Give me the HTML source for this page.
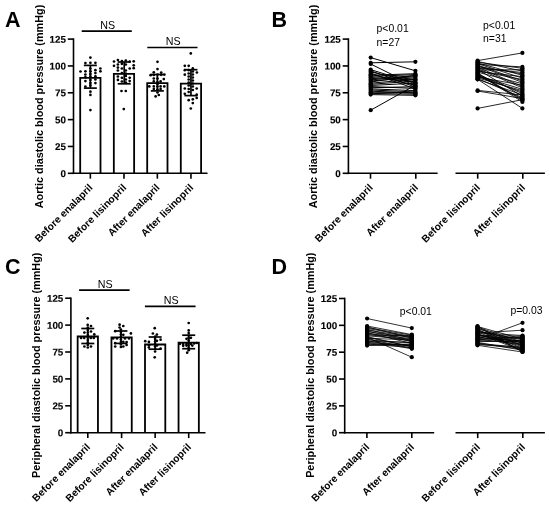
<!DOCTYPE html>
<html><head><meta charset="utf-8"><style>html,body{margin:0;padding:0;background:#fff;overflow:hidden;}svg{display:block;}</style></head>
<body>
<svg width="550" height="506" viewBox="0 0 550 506" font-family="Liberation Sans, Arial, sans-serif">
<rect width="550" height="506" fill="#fff"/>
<text x="5.00" y="26.80" font-size="21.5" font-weight="bold" text-anchor="start">A</text>
<text x="271.60" y="26.80" font-size="21.5" font-weight="bold" text-anchor="start">B</text>
<text x="5.00" y="273.70" font-size="21.5" font-weight="bold" text-anchor="start">C</text>
<text x="271.60" y="273.70" font-size="21.5" font-weight="bold" text-anchor="start">D</text>
<line x1="73.50" y1="38.30" x2="73.50" y2="174.10" stroke="#000" stroke-width="1.6"/>
<line x1="67.80" y1="173.30" x2="73.50" y2="173.30" stroke="#000" stroke-width="1.6"/>
<text transform="translate(65.90 176.90) rotate(0.2)" font-size="9.8" font-weight="bold" text-anchor="end" stroke="#000" stroke-width="0.12">0</text>
<line x1="67.80" y1="146.46" x2="73.50" y2="146.46" stroke="#000" stroke-width="1.6"/>
<text transform="translate(65.90 150.06) rotate(0.2)" font-size="9.8" font-weight="bold" text-anchor="end" stroke="#000" stroke-width="0.12">25</text>
<line x1="67.80" y1="119.62" x2="73.50" y2="119.62" stroke="#000" stroke-width="1.6"/>
<text transform="translate(65.90 123.22) rotate(0.2)" font-size="9.8" font-weight="bold" text-anchor="end" stroke="#000" stroke-width="0.12">50</text>
<line x1="67.80" y1="92.78" x2="73.50" y2="92.78" stroke="#000" stroke-width="1.6"/>
<text transform="translate(65.90 96.38) rotate(0.2)" font-size="9.8" font-weight="bold" text-anchor="end" stroke="#000" stroke-width="0.12">75</text>
<line x1="67.80" y1="65.94" x2="73.50" y2="65.94" stroke="#000" stroke-width="1.6"/>
<text transform="translate(65.90 69.54) rotate(0.2)" font-size="9.8" font-weight="bold" text-anchor="end" stroke="#000" stroke-width="0.12">100</text>
<line x1="67.80" y1="39.10" x2="73.50" y2="39.10" stroke="#000" stroke-width="1.6"/>
<text transform="translate(65.90 42.70) rotate(0.2)" font-size="9.8" font-weight="bold" text-anchor="end" stroke="#000" stroke-width="0.12">125</text>
<text transform="translate(42.60 106.50) rotate(-90)" font-size="10.85" font-weight="bold" text-anchor="middle">Aortic diastolic blood pressure (mmHg)</text>
<line x1="72.70" y1="173.30" x2="207.50" y2="173.30" stroke="#000" stroke-width="1.6"/>
<line x1="90.35" y1="173.30" x2="90.35" y2="178.70" stroke="#000" stroke-width="1.6"/>
<text transform="translate(93.35 188.30) rotate(-45)" font-size="10.2" font-weight="bold" text-anchor="end">Before enalapril</text>
<line x1="123.98" y1="173.30" x2="123.98" y2="178.70" stroke="#000" stroke-width="1.6"/>
<text transform="translate(126.98 188.30) rotate(-45)" font-size="10.2" font-weight="bold" text-anchor="end">Before lisinopril</text>
<line x1="157.35" y1="173.30" x2="157.35" y2="178.70" stroke="#000" stroke-width="1.6"/>
<text transform="translate(160.35 188.30) rotate(-45)" font-size="10.2" font-weight="bold" text-anchor="end">After enalapril</text>
<line x1="190.95" y1="173.30" x2="190.95" y2="178.70" stroke="#000" stroke-width="1.6"/>
<text transform="translate(193.95 188.30) rotate(-45)" font-size="10.2" font-weight="bold" text-anchor="end">After lisinopril</text>
<line x1="348.40" y1="38.30" x2="348.40" y2="174.10" stroke="#000" stroke-width="1.6"/>
<line x1="342.70" y1="173.30" x2="348.40" y2="173.30" stroke="#000" stroke-width="1.6"/>
<text transform="translate(340.80 176.90) rotate(0.2)" font-size="9.8" font-weight="bold" text-anchor="end" stroke="#000" stroke-width="0.12">0</text>
<line x1="342.70" y1="146.46" x2="348.40" y2="146.46" stroke="#000" stroke-width="1.6"/>
<text transform="translate(340.80 150.06) rotate(0.2)" font-size="9.8" font-weight="bold" text-anchor="end" stroke="#000" stroke-width="0.12">25</text>
<line x1="342.70" y1="119.62" x2="348.40" y2="119.62" stroke="#000" stroke-width="1.6"/>
<text transform="translate(340.80 123.22) rotate(0.2)" font-size="9.8" font-weight="bold" text-anchor="end" stroke="#000" stroke-width="0.12">50</text>
<line x1="342.70" y1="92.78" x2="348.40" y2="92.78" stroke="#000" stroke-width="1.6"/>
<text transform="translate(340.80 96.38) rotate(0.2)" font-size="9.8" font-weight="bold" text-anchor="end" stroke="#000" stroke-width="0.12">75</text>
<line x1="342.70" y1="65.94" x2="348.40" y2="65.94" stroke="#000" stroke-width="1.6"/>
<text transform="translate(340.80 69.54) rotate(0.2)" font-size="9.8" font-weight="bold" text-anchor="end" stroke="#000" stroke-width="0.12">100</text>
<line x1="342.70" y1="39.10" x2="348.40" y2="39.10" stroke="#000" stroke-width="1.6"/>
<text transform="translate(340.80 42.70) rotate(0.2)" font-size="9.8" font-weight="bold" text-anchor="end" stroke="#000" stroke-width="0.12">125</text>
<text transform="translate(317.30 106.50) rotate(-90)" font-size="10.85" font-weight="bold" text-anchor="middle">Aortic diastolic blood pressure (mmHg)</text>
<line x1="347.60" y1="173.30" x2="437.60" y2="173.30" stroke="#000" stroke-width="1.6"/>
<line x1="455.50" y1="173.30" x2="544.90" y2="173.30" stroke="#000" stroke-width="1.6"/>
<line x1="370.50" y1="173.30" x2="370.50" y2="178.70" stroke="#000" stroke-width="1.6"/>
<text transform="translate(373.50 188.30) rotate(-45)" font-size="10.2" font-weight="bold" text-anchor="end">Before enalapril</text>
<line x1="415.80" y1="173.30" x2="415.80" y2="178.70" stroke="#000" stroke-width="1.6"/>
<text transform="translate(418.80 188.30) rotate(-45)" font-size="10.2" font-weight="bold" text-anchor="end">After enalapril</text>
<line x1="477.70" y1="173.30" x2="477.70" y2="178.70" stroke="#000" stroke-width="1.6"/>
<text transform="translate(480.70 188.30) rotate(-45)" font-size="10.2" font-weight="bold" text-anchor="end">Before lisinopril</text>
<line x1="522.80" y1="173.30" x2="522.80" y2="178.70" stroke="#000" stroke-width="1.6"/>
<text transform="translate(525.80 188.30) rotate(-45)" font-size="10.2" font-weight="bold" text-anchor="end">After lisinopril</text>
<line x1="70.90" y1="297.40" x2="70.90" y2="433.50" stroke="#000" stroke-width="1.6"/>
<line x1="65.20" y1="432.70" x2="70.90" y2="432.70" stroke="#000" stroke-width="1.6"/>
<text transform="translate(63.30 436.30) rotate(0.2)" font-size="9.8" font-weight="bold" text-anchor="end" stroke="#000" stroke-width="0.12">0</text>
<line x1="65.20" y1="405.80" x2="70.90" y2="405.80" stroke="#000" stroke-width="1.6"/>
<text transform="translate(63.30 409.40) rotate(0.2)" font-size="9.8" font-weight="bold" text-anchor="end" stroke="#000" stroke-width="0.12">25</text>
<line x1="65.20" y1="378.90" x2="70.90" y2="378.90" stroke="#000" stroke-width="1.6"/>
<text transform="translate(63.30 382.50) rotate(0.2)" font-size="9.8" font-weight="bold" text-anchor="end" stroke="#000" stroke-width="0.12">50</text>
<line x1="65.20" y1="352.00" x2="70.90" y2="352.00" stroke="#000" stroke-width="1.6"/>
<text transform="translate(63.30 355.60) rotate(0.2)" font-size="9.8" font-weight="bold" text-anchor="end" stroke="#000" stroke-width="0.12">75</text>
<line x1="65.20" y1="325.10" x2="70.90" y2="325.10" stroke="#000" stroke-width="1.6"/>
<text transform="translate(63.30 328.70) rotate(0.2)" font-size="9.8" font-weight="bold" text-anchor="end" stroke="#000" stroke-width="0.12">100</text>
<line x1="65.20" y1="298.20" x2="70.90" y2="298.20" stroke="#000" stroke-width="1.6"/>
<text transform="translate(63.30 301.80) rotate(0.2)" font-size="9.8" font-weight="bold" text-anchor="end" stroke="#000" stroke-width="0.12">125</text>
<text transform="translate(39.80 365.30) rotate(-90)" font-size="10.85" font-weight="bold" text-anchor="middle">Peripheral diastolic blood pressure (mmHg)</text>
<line x1="70.10" y1="432.70" x2="205.50" y2="432.70" stroke="#000" stroke-width="1.6"/>
<line x1="87.80" y1="432.70" x2="87.80" y2="438.10" stroke="#000" stroke-width="1.6"/>
<text transform="translate(90.80 447.70) rotate(-45)" font-size="10.2" font-weight="bold" text-anchor="end">Before enalapril</text>
<line x1="121.60" y1="432.70" x2="121.60" y2="438.10" stroke="#000" stroke-width="1.6"/>
<text transform="translate(124.60 447.70) rotate(-45)" font-size="10.2" font-weight="bold" text-anchor="end">Before lisinopril</text>
<line x1="155.15" y1="432.70" x2="155.15" y2="438.10" stroke="#000" stroke-width="1.6"/>
<text transform="translate(158.15 447.70) rotate(-45)" font-size="10.2" font-weight="bold" text-anchor="end">After enalapril</text>
<line x1="188.70" y1="432.70" x2="188.70" y2="438.10" stroke="#000" stroke-width="1.6"/>
<text transform="translate(191.70 447.70) rotate(-45)" font-size="10.2" font-weight="bold" text-anchor="end">After lisinopril</text>
<line x1="344.70" y1="297.70" x2="344.70" y2="433.50" stroke="#000" stroke-width="1.6"/>
<line x1="339.00" y1="432.70" x2="344.70" y2="432.70" stroke="#000" stroke-width="1.6"/>
<text transform="translate(337.10 436.30) rotate(0.2)" font-size="9.8" font-weight="bold" text-anchor="end" stroke="#000" stroke-width="0.12">0</text>
<line x1="339.00" y1="405.86" x2="344.70" y2="405.86" stroke="#000" stroke-width="1.6"/>
<text transform="translate(337.10 409.46) rotate(0.2)" font-size="9.8" font-weight="bold" text-anchor="end" stroke="#000" stroke-width="0.12">25</text>
<line x1="339.00" y1="379.02" x2="344.70" y2="379.02" stroke="#000" stroke-width="1.6"/>
<text transform="translate(337.10 382.62) rotate(0.2)" font-size="9.8" font-weight="bold" text-anchor="end" stroke="#000" stroke-width="0.12">50</text>
<line x1="339.00" y1="352.18" x2="344.70" y2="352.18" stroke="#000" stroke-width="1.6"/>
<text transform="translate(337.10 355.78) rotate(0.2)" font-size="9.8" font-weight="bold" text-anchor="end" stroke="#000" stroke-width="0.12">75</text>
<line x1="339.00" y1="325.34" x2="344.70" y2="325.34" stroke="#000" stroke-width="1.6"/>
<text transform="translate(337.10 328.94) rotate(0.2)" font-size="9.8" font-weight="bold" text-anchor="end" stroke="#000" stroke-width="0.12">100</text>
<line x1="339.00" y1="298.50" x2="344.70" y2="298.50" stroke="#000" stroke-width="1.6"/>
<text transform="translate(337.10 302.10) rotate(0.2)" font-size="9.8" font-weight="bold" text-anchor="end" stroke="#000" stroke-width="0.12">125</text>
<text transform="translate(313.60 365.20) rotate(-90)" font-size="10.85" font-weight="bold" text-anchor="middle">Peripheral diastolic blood pressure (mmHg)</text>
<line x1="343.90" y1="432.70" x2="434.20" y2="432.70" stroke="#000" stroke-width="1.6"/>
<line x1="455.50" y1="432.70" x2="544.90" y2="432.70" stroke="#000" stroke-width="1.6"/>
<line x1="366.90" y1="432.70" x2="366.90" y2="438.10" stroke="#000" stroke-width="1.6"/>
<text transform="translate(369.90 447.70) rotate(-45)" font-size="10.2" font-weight="bold" text-anchor="end">Before enalapril</text>
<line x1="411.80" y1="432.70" x2="411.80" y2="438.10" stroke="#000" stroke-width="1.6"/>
<text transform="translate(414.80 447.70) rotate(-45)" font-size="10.2" font-weight="bold" text-anchor="end">After enalapril</text>
<line x1="477.70" y1="432.70" x2="477.70" y2="438.10" stroke="#000" stroke-width="1.6"/>
<text transform="translate(480.70 447.70) rotate(-45)" font-size="10.2" font-weight="bold" text-anchor="end">Before lisinopril</text>
<line x1="522.80" y1="432.70" x2="522.80" y2="438.10" stroke="#000" stroke-width="1.6"/>
<text transform="translate(525.80 447.70) rotate(-45)" font-size="10.2" font-weight="bold" text-anchor="end">After lisinopril</text>
<path d="M80.20 173.30 V77.80 H100.50 V173.30" fill="none" stroke="#000" stroke-width="1.8"/>
<line x1="90.35" y1="65.40" x2="90.35" y2="88.10" stroke="#000" stroke-width="1.7"/>
<line x1="83.85" y1="65.40" x2="96.85" y2="65.40" stroke="#000" stroke-width="1.7"/>
<line x1="83.85" y1="88.10" x2="96.85" y2="88.10" stroke="#000" stroke-width="1.7"/>
<path d="M113.83 173.30 V73.90 H134.13 V173.30" fill="none" stroke="#000" stroke-width="1.8"/>
<line x1="124.20" y1="62.00" x2="124.20" y2="83.80" stroke="#000" stroke-width="1.7"/>
<line x1="117.70" y1="62.00" x2="130.70" y2="62.00" stroke="#000" stroke-width="1.7"/>
<line x1="117.70" y1="83.80" x2="130.70" y2="83.80" stroke="#000" stroke-width="1.7"/>
<path d="M147.20 173.30 V83.20 H167.50 V173.30" fill="none" stroke="#000" stroke-width="1.8"/>
<line x1="157.35" y1="74.50" x2="157.35" y2="90.90" stroke="#000" stroke-width="1.7"/>
<line x1="150.85" y1="74.50" x2="163.85" y2="74.50" stroke="#000" stroke-width="1.7"/>
<line x1="150.85" y1="90.90" x2="163.85" y2="90.90" stroke="#000" stroke-width="1.7"/>
<path d="M180.80 173.30 V83.60 H201.10 V173.30" fill="none" stroke="#000" stroke-width="1.8"/>
<line x1="190.95" y1="69.70" x2="190.95" y2="95.60" stroke="#000" stroke-width="1.7"/>
<line x1="184.45" y1="69.70" x2="197.45" y2="69.70" stroke="#000" stroke-width="1.7"/>
<line x1="184.45" y1="95.60" x2="197.45" y2="95.60" stroke="#000" stroke-width="1.7"/>
<path d="M77.65 432.70 V336.50 H97.95 V432.70" fill="none" stroke="#000" stroke-width="1.8"/>
<line x1="87.80" y1="328.50" x2="87.80" y2="343.50" stroke="#000" stroke-width="1.7"/>
<line x1="81.30" y1="328.50" x2="94.30" y2="328.50" stroke="#000" stroke-width="1.7"/>
<line x1="81.30" y1="343.50" x2="94.30" y2="343.50" stroke="#000" stroke-width="1.7"/>
<path d="M111.45 432.70 V337.30 H131.75 V432.70" fill="none" stroke="#000" stroke-width="1.8"/>
<line x1="120.90" y1="331.00" x2="120.90" y2="343.40" stroke="#000" stroke-width="1.7"/>
<line x1="114.40" y1="331.00" x2="127.40" y2="331.00" stroke="#000" stroke-width="1.7"/>
<line x1="114.40" y1="343.40" x2="127.40" y2="343.40" stroke="#000" stroke-width="1.7"/>
<path d="M145.00 432.70 V344.50 H165.30 V432.70" fill="none" stroke="#000" stroke-width="1.8"/>
<line x1="155.15" y1="337.00" x2="155.15" y2="349.20" stroke="#000" stroke-width="1.7"/>
<line x1="148.65" y1="337.00" x2="161.65" y2="337.00" stroke="#000" stroke-width="1.7"/>
<line x1="148.65" y1="349.20" x2="161.65" y2="349.20" stroke="#000" stroke-width="1.7"/>
<path d="M178.55 432.70 V342.60 H198.85 V432.70" fill="none" stroke="#000" stroke-width="1.8"/>
<line x1="188.70" y1="335.20" x2="188.70" y2="348.70" stroke="#000" stroke-width="1.7"/>
<line x1="182.20" y1="335.20" x2="195.20" y2="335.20" stroke="#000" stroke-width="1.7"/>
<line x1="182.20" y1="348.70" x2="195.20" y2="348.70" stroke="#000" stroke-width="1.7"/>
<line x1="81.70" y1="31.10" x2="131.80" y2="31.10" stroke="#000" stroke-width="1.6"/>
<text x="107.65" y="28.80" font-size="10.7" text-anchor="middle">NS</text>
<line x1="147.30" y1="47.50" x2="197.50" y2="47.50" stroke="#000" stroke-width="1.6"/>
<text x="173.30" y="44.50" font-size="10.7" text-anchor="middle">NS</text>
<line x1="79.10" y1="290.10" x2="129.60" y2="290.10" stroke="#000" stroke-width="1.6"/>
<text x="105.25" y="287.80" font-size="10.7" text-anchor="middle">NS</text>
<line x1="144.90" y1="306.40" x2="195.60" y2="306.40" stroke="#000" stroke-width="1.6"/>
<text x="171.15" y="303.60" font-size="10.7" text-anchor="middle">NS</text>
<text x="376.60" y="32.10" font-size="10.4" text-anchor="start">p&lt;0.01</text>
<text x="376.60" y="45.60" font-size="10.4" text-anchor="start">n=27</text>
<text x="483.10" y="28.50" font-size="10.4" text-anchor="start">p&lt;0.01</text>
<text x="483.10" y="42.10" font-size="10.4" text-anchor="start">n=31</text>
<text x="399.80" y="314.80" font-size="10.4" text-anchor="start">p&lt;0.01</text>
<text x="510.40" y="313.70" font-size="10.4" text-anchor="start">p=0.03</text>
<circle cx="90.40" cy="57.60" r="1.35"/>
<circle cx="85.40" cy="63.10" r="1.35"/>
<circle cx="90.40" cy="62.80" r="1.35"/>
<circle cx="95.40" cy="62.80" r="1.35"/>
<circle cx="100.40" cy="68.50" r="1.35"/>
<circle cx="90.40" cy="68.50" r="1.35"/>
<circle cx="80.50" cy="71.50" r="1.35"/>
<circle cx="85.40" cy="71.30" r="1.35"/>
<circle cx="90.40" cy="71.30" r="1.35"/>
<circle cx="95.40" cy="70.20" r="1.35"/>
<circle cx="100.40" cy="71.30" r="1.35"/>
<circle cx="85.40" cy="74.50" r="1.35"/>
<circle cx="90.40" cy="74.00" r="1.35"/>
<circle cx="95.40" cy="73.10" r="1.35"/>
<circle cx="90.40" cy="76.70" r="1.35"/>
<circle cx="95.40" cy="76.30" r="1.35"/>
<circle cx="85.40" cy="77.20" r="1.35"/>
<circle cx="90.40" cy="80.00" r="1.35"/>
<circle cx="85.40" cy="81.10" r="1.35"/>
<circle cx="95.40" cy="79.50" r="1.35"/>
<circle cx="90.40" cy="83.10" r="1.35"/>
<circle cx="95.40" cy="83.10" r="1.35"/>
<circle cx="90.40" cy="85.40" r="1.35"/>
<circle cx="85.40" cy="86.50" r="1.35"/>
<circle cx="90.40" cy="91.70" r="1.35"/>
<circle cx="90.40" cy="94.90" r="1.35"/>
<circle cx="90.40" cy="110.10" r="1.35"/>
<circle cx="114.00" cy="61.50" r="1.35"/>
<circle cx="117.90" cy="60.00" r="1.35"/>
<circle cx="121.90" cy="61.00" r="1.35"/>
<circle cx="125.80" cy="60.50" r="1.35"/>
<circle cx="129.70" cy="61.50" r="1.35"/>
<circle cx="133.70" cy="61.30" r="1.35"/>
<circle cx="114.00" cy="65.80" r="1.35"/>
<circle cx="117.90" cy="64.50" r="1.35"/>
<circle cx="125.80" cy="64.50" r="1.35"/>
<circle cx="133.70" cy="65.30" r="1.35"/>
<circle cx="121.90" cy="63.80" r="1.35"/>
<circle cx="117.90" cy="67.60" r="1.35"/>
<circle cx="121.90" cy="68.50" r="1.35"/>
<circle cx="129.70" cy="68.50" r="1.35"/>
<circle cx="133.70" cy="68.20" r="1.35"/>
<circle cx="117.90" cy="70.50" r="1.35"/>
<circle cx="125.80" cy="70.50" r="1.35"/>
<circle cx="121.90" cy="73.00" r="1.35"/>
<circle cx="125.80" cy="73.50" r="1.35"/>
<circle cx="117.90" cy="76.50" r="1.35"/>
<circle cx="125.80" cy="76.00" r="1.35"/>
<circle cx="129.70" cy="77.80" r="1.35"/>
<circle cx="121.90" cy="77.80" r="1.35"/>
<circle cx="117.90" cy="79.90" r="1.35"/>
<circle cx="125.80" cy="79.50" r="1.35"/>
<circle cx="129.70" cy="81.10" r="1.35"/>
<circle cx="121.90" cy="81.50" r="1.35"/>
<circle cx="125.80" cy="82.50" r="1.35"/>
<circle cx="121.50" cy="91.00" r="1.35"/>
<circle cx="125.80" cy="91.00" r="1.35"/>
<circle cx="123.80" cy="109.10" r="1.35"/>
<circle cx="157.50" cy="61.80" r="1.35"/>
<circle cx="157.50" cy="69.10" r="1.35"/>
<circle cx="153.80" cy="72.30" r="1.35"/>
<circle cx="161.20" cy="72.60" r="1.35"/>
<circle cx="150.60" cy="75.20" r="1.35"/>
<circle cx="153.80" cy="75.00" r="1.35"/>
<circle cx="157.50" cy="74.50" r="1.35"/>
<circle cx="161.20" cy="74.80" r="1.35"/>
<circle cx="164.40" cy="74.60" r="1.35"/>
<circle cx="163.80" cy="79.10" r="1.35"/>
<circle cx="157.50" cy="78.50" r="1.35"/>
<circle cx="153.80" cy="78.50" r="1.35"/>
<circle cx="153.80" cy="81.40" r="1.35"/>
<circle cx="160.60" cy="81.40" r="1.35"/>
<circle cx="157.50" cy="82.00" r="1.35"/>
<circle cx="157.50" cy="84.00" r="1.35"/>
<circle cx="149.30" cy="86.40" r="1.35"/>
<circle cx="153.80" cy="86.40" r="1.35"/>
<circle cx="157.50" cy="86.50" r="1.35"/>
<circle cx="160.60" cy="86.40" r="1.35"/>
<circle cx="164.30" cy="86.40" r="1.35"/>
<circle cx="153.80" cy="89.00" r="1.35"/>
<circle cx="160.60" cy="89.00" r="1.35"/>
<circle cx="157.50" cy="89.50" r="1.35"/>
<circle cx="157.50" cy="92.50" r="1.35"/>
<circle cx="155.60" cy="96.40" r="1.35"/>
<circle cx="158.80" cy="95.00" r="1.35"/>
<circle cx="190.80" cy="53.40" r="1.35"/>
<circle cx="184.80" cy="65.80" r="1.35"/>
<circle cx="188.70" cy="65.80" r="1.35"/>
<circle cx="184.80" cy="70.20" r="1.35"/>
<circle cx="188.70" cy="70.20" r="1.35"/>
<circle cx="192.80" cy="68.40" r="1.35"/>
<circle cx="196.90" cy="72.50" r="1.35"/>
<circle cx="192.80" cy="71.50" r="1.35"/>
<circle cx="184.80" cy="74.70" r="1.35"/>
<circle cx="188.70" cy="73.50" r="1.35"/>
<circle cx="192.80" cy="74.50" r="1.35"/>
<circle cx="188.70" cy="76.50" r="1.35"/>
<circle cx="192.80" cy="77.50" r="1.35"/>
<circle cx="188.70" cy="79.50" r="1.35"/>
<circle cx="192.80" cy="80.50" r="1.35"/>
<circle cx="188.70" cy="82.50" r="1.35"/>
<circle cx="192.80" cy="83.50" r="1.35"/>
<circle cx="188.70" cy="85.50" r="1.35"/>
<circle cx="192.80" cy="86.50" r="1.35"/>
<circle cx="188.70" cy="89.00" r="1.35"/>
<circle cx="192.80" cy="90.00" r="1.35"/>
<circle cx="188.70" cy="92.00" r="1.35"/>
<circle cx="184.80" cy="88.50" r="1.35"/>
<circle cx="196.70" cy="88.50" r="1.35"/>
<circle cx="184.80" cy="93.80" r="1.35"/>
<circle cx="196.70" cy="94.70" r="1.35"/>
<circle cx="196.70" cy="97.90" r="1.35"/>
<circle cx="188.70" cy="100.20" r="1.35"/>
<circle cx="192.80" cy="99.30" r="1.35"/>
<circle cx="192.80" cy="103.10" r="1.35"/>
<circle cx="190.80" cy="108.50" r="1.35"/>
<circle cx="87.70" cy="318.30" r="1.35"/>
<circle cx="87.70" cy="324.90" r="1.35"/>
<circle cx="91.00" cy="326.00" r="1.35"/>
<circle cx="84.40" cy="332.60" r="1.35"/>
<circle cx="91.00" cy="331.50" r="1.35"/>
<circle cx="94.30" cy="334.40" r="1.35"/>
<circle cx="81.10" cy="337.90" r="1.35"/>
<circle cx="84.20" cy="337.90" r="1.35"/>
<circle cx="90.80" cy="337.90" r="1.35"/>
<circle cx="93.80" cy="337.90" r="1.35"/>
<circle cx="84.40" cy="346.50" r="1.35"/>
<circle cx="91.00" cy="346.50" r="1.35"/>
<circle cx="87.80" cy="327.50" r="1.35"/>
<circle cx="87.80" cy="330.00" r="1.35"/>
<circle cx="87.80" cy="332.50" r="1.35"/>
<circle cx="87.80" cy="335.00" r="1.35"/>
<circle cx="87.80" cy="337.50" r="1.35"/>
<circle cx="87.80" cy="340.00" r="1.35"/>
<circle cx="87.80" cy="342.50" r="1.35"/>
<circle cx="87.80" cy="345.00" r="1.35"/>
<circle cx="87.80" cy="347.50" r="1.35"/>
<circle cx="119.60" cy="324.70" r="1.35"/>
<circle cx="123.30" cy="326.00" r="1.35"/>
<circle cx="119.60" cy="327.50" r="1.35"/>
<circle cx="115.20" cy="331.20" r="1.35"/>
<circle cx="123.30" cy="334.80" r="1.35"/>
<circle cx="130.90" cy="333.40" r="1.35"/>
<circle cx="113.20" cy="338.40" r="1.35"/>
<circle cx="117.00" cy="338.40" r="1.35"/>
<circle cx="125.00" cy="338.40" r="1.35"/>
<circle cx="129.00" cy="338.40" r="1.35"/>
<circle cx="115.20" cy="343.20" r="1.35"/>
<circle cx="123.30" cy="341.80" r="1.35"/>
<circle cx="126.60" cy="342.10" r="1.35"/>
<circle cx="126.60" cy="345.00" r="1.35"/>
<circle cx="115.20" cy="346.50" r="1.35"/>
<circle cx="123.30" cy="346.50" r="1.35"/>
<circle cx="120.90" cy="329.50" r="1.35"/>
<circle cx="120.90" cy="332.00" r="1.35"/>
<circle cx="120.90" cy="334.50" r="1.35"/>
<circle cx="120.90" cy="337.00" r="1.35"/>
<circle cx="120.90" cy="339.50" r="1.35"/>
<circle cx="120.90" cy="342.00" r="1.35"/>
<circle cx="120.90" cy="344.50" r="1.35"/>
<circle cx="120.90" cy="347.00" r="1.35"/>
<circle cx="154.70" cy="328.20" r="1.35"/>
<circle cx="152.90" cy="333.50" r="1.35"/>
<circle cx="156.90" cy="334.60" r="1.35"/>
<circle cx="145.20" cy="341.20" r="1.35"/>
<circle cx="148.90" cy="341.90" r="1.35"/>
<circle cx="156.90" cy="340.80" r="1.35"/>
<circle cx="160.60" cy="339.70" r="1.35"/>
<circle cx="148.90" cy="347.50" r="1.35"/>
<circle cx="160.60" cy="348.50" r="1.35"/>
<circle cx="149.00" cy="345.50" r="1.35"/>
<circle cx="157.00" cy="345.50" r="1.35"/>
<circle cx="154.70" cy="357.30" r="1.35"/>
<circle cx="155.10" cy="336.50" r="1.35"/>
<circle cx="155.10" cy="339.00" r="1.35"/>
<circle cx="155.10" cy="341.50" r="1.35"/>
<circle cx="155.10" cy="344.00" r="1.35"/>
<circle cx="155.10" cy="346.50" r="1.35"/>
<circle cx="155.10" cy="349.00" r="1.35"/>
<circle cx="155.10" cy="351.50" r="1.35"/>
<circle cx="188.70" cy="323.00" r="1.35"/>
<circle cx="188.70" cy="330.40" r="1.35"/>
<circle cx="186.50" cy="338.80" r="1.35"/>
<circle cx="190.90" cy="337.80" r="1.35"/>
<circle cx="180.00" cy="343.80" r="1.35"/>
<circle cx="183.20" cy="344.00" r="1.35"/>
<circle cx="186.50" cy="344.00" r="1.35"/>
<circle cx="190.90" cy="344.00" r="1.35"/>
<circle cx="194.20" cy="343.50" r="1.35"/>
<circle cx="196.80" cy="343.00" r="1.35"/>
<circle cx="183.20" cy="345.80" r="1.35"/>
<circle cx="186.50" cy="345.60" r="1.35"/>
<circle cx="192.30" cy="345.60" r="1.35"/>
<circle cx="188.70" cy="350.20" r="1.35"/>
<circle cx="187.20" cy="352.70" r="1.35"/>
<circle cx="188.70" cy="333.00" r="1.35"/>
<circle cx="188.70" cy="335.50" r="1.35"/>
<circle cx="188.70" cy="338.00" r="1.35"/>
<circle cx="188.70" cy="340.50" r="1.35"/>
<circle cx="188.70" cy="343.00" r="1.35"/>
<circle cx="188.70" cy="345.50" r="1.35"/>
<circle cx="188.70" cy="348.00" r="1.35"/>
<line x1="370.7" y1="57.60" x2="415.4" y2="70.80" stroke="#000" stroke-width="1.0"/>
<line x1="370.7" y1="62.80" x2="415.4" y2="61.80" stroke="#000" stroke-width="1.0"/>
<line x1="370.7" y1="64.00" x2="415.4" y2="86.08" stroke="#000" stroke-width="1.0"/>
<line x1="370.7" y1="110.20" x2="415.4" y2="85.11" stroke="#000" stroke-width="1.0"/>
<line x1="370.7" y1="69.60" x2="415.4" y2="83.62" stroke="#000" stroke-width="1.0"/>
<line x1="370.7" y1="70.73" x2="415.4" y2="87.13" stroke="#000" stroke-width="1.0"/>
<line x1="370.7" y1="71.86" x2="415.4" y2="82.30" stroke="#000" stroke-width="1.0"/>
<line x1="370.7" y1="73.00" x2="415.4" y2="88.89" stroke="#000" stroke-width="1.0"/>
<line x1="370.7" y1="74.13" x2="415.4" y2="85.38" stroke="#000" stroke-width="1.0"/>
<line x1="370.7" y1="75.26" x2="415.4" y2="73.70" stroke="#000" stroke-width="1.0"/>
<line x1="370.7" y1="76.39" x2="415.4" y2="74.66" stroke="#000" stroke-width="1.0"/>
<line x1="370.7" y1="77.53" x2="415.4" y2="80.11" stroke="#000" stroke-width="1.0"/>
<line x1="370.7" y1="78.66" x2="415.4" y2="75.72" stroke="#000" stroke-width="1.0"/>
<line x1="370.7" y1="79.79" x2="415.4" y2="76.77" stroke="#000" stroke-width="1.0"/>
<line x1="370.7" y1="80.92" x2="415.4" y2="77.91" stroke="#000" stroke-width="1.0"/>
<line x1="370.7" y1="82.06" x2="415.4" y2="75.28" stroke="#000" stroke-width="1.0"/>
<line x1="370.7" y1="83.19" x2="415.4" y2="79.23" stroke="#000" stroke-width="1.0"/>
<line x1="370.7" y1="84.32" x2="415.4" y2="80.99" stroke="#000" stroke-width="1.0"/>
<line x1="370.7" y1="85.45" x2="415.4" y2="83.18" stroke="#000" stroke-width="1.0"/>
<line x1="370.7" y1="86.59" x2="415.4" y2="88.45" stroke="#000" stroke-width="1.0"/>
<line x1="370.7" y1="87.72" x2="415.4" y2="86.69" stroke="#000" stroke-width="1.0"/>
<line x1="370.7" y1="88.85" x2="415.4" y2="90.65" stroke="#000" stroke-width="1.0"/>
<line x1="370.7" y1="89.98" x2="415.4" y2="91.96" stroke="#000" stroke-width="1.0"/>
<line x1="370.7" y1="91.12" x2="415.4" y2="93.28" stroke="#000" stroke-width="1.0"/>
<line x1="370.7" y1="92.25" x2="415.4" y2="92.67" stroke="#000" stroke-width="1.0"/>
<line x1="370.7" y1="93.38" x2="415.4" y2="94.16" stroke="#000" stroke-width="1.0"/>
<line x1="370.7" y1="94.60" x2="415.4" y2="95.30" stroke="#000" stroke-width="1.0"/>
<circle cx="370.7" cy="57.60" r="2.1"/>
<circle cx="415.4" cy="70.80" r="2.1"/>
<circle cx="370.7" cy="62.80" r="2.1"/>
<circle cx="415.4" cy="61.80" r="2.1"/>
<circle cx="370.7" cy="64.00" r="2.1"/>
<circle cx="415.4" cy="86.08" r="2.1"/>
<circle cx="370.7" cy="110.20" r="2.1"/>
<circle cx="415.4" cy="85.11" r="2.1"/>
<circle cx="370.7" cy="69.60" r="2.1"/>
<circle cx="415.4" cy="83.62" r="2.1"/>
<circle cx="370.7" cy="70.73" r="2.1"/>
<circle cx="415.4" cy="87.13" r="2.1"/>
<circle cx="370.7" cy="71.86" r="2.1"/>
<circle cx="415.4" cy="82.30" r="2.1"/>
<circle cx="370.7" cy="73.00" r="2.1"/>
<circle cx="415.4" cy="88.89" r="2.1"/>
<circle cx="370.7" cy="74.13" r="2.1"/>
<circle cx="415.4" cy="85.38" r="2.1"/>
<circle cx="370.7" cy="75.26" r="2.1"/>
<circle cx="415.4" cy="73.70" r="2.1"/>
<circle cx="370.7" cy="76.39" r="2.1"/>
<circle cx="415.4" cy="74.66" r="2.1"/>
<circle cx="370.7" cy="77.53" r="2.1"/>
<circle cx="415.4" cy="80.11" r="2.1"/>
<circle cx="370.7" cy="78.66" r="2.1"/>
<circle cx="415.4" cy="75.72" r="2.1"/>
<circle cx="370.7" cy="79.79" r="2.1"/>
<circle cx="415.4" cy="76.77" r="2.1"/>
<circle cx="370.7" cy="80.92" r="2.1"/>
<circle cx="415.4" cy="77.91" r="2.1"/>
<circle cx="370.7" cy="82.06" r="2.1"/>
<circle cx="415.4" cy="75.28" r="2.1"/>
<circle cx="370.7" cy="83.19" r="2.1"/>
<circle cx="415.4" cy="79.23" r="2.1"/>
<circle cx="370.7" cy="84.32" r="2.1"/>
<circle cx="415.4" cy="80.99" r="2.1"/>
<circle cx="370.7" cy="85.45" r="2.1"/>
<circle cx="415.4" cy="83.18" r="2.1"/>
<circle cx="370.7" cy="86.59" r="2.1"/>
<circle cx="415.4" cy="88.45" r="2.1"/>
<circle cx="370.7" cy="87.72" r="2.1"/>
<circle cx="415.4" cy="86.69" r="2.1"/>
<circle cx="370.7" cy="88.85" r="2.1"/>
<circle cx="415.4" cy="90.65" r="2.1"/>
<circle cx="370.7" cy="89.98" r="2.1"/>
<circle cx="415.4" cy="91.96" r="2.1"/>
<circle cx="370.7" cy="91.12" r="2.1"/>
<circle cx="415.4" cy="93.28" r="2.1"/>
<circle cx="370.7" cy="92.25" r="2.1"/>
<circle cx="415.4" cy="92.67" r="2.1"/>
<circle cx="370.7" cy="93.38" r="2.1"/>
<circle cx="415.4" cy="94.16" r="2.1"/>
<circle cx="370.7" cy="94.60" r="2.1"/>
<circle cx="415.4" cy="95.30" r="2.1"/>
<line x1="477.6" y1="60.60" x2="522.4" y2="52.90" stroke="#000" stroke-width="0.85"/>
<line x1="477.6" y1="90.40" x2="522.4" y2="95.00" stroke="#000" stroke-width="0.85"/>
<line x1="477.6" y1="91.00" x2="522.4" y2="98.50" stroke="#000" stroke-width="0.85"/>
<line x1="477.6" y1="108.40" x2="522.4" y2="99.70" stroke="#000" stroke-width="0.85"/>
<line x1="477.6" y1="79.30" x2="522.4" y2="108.40" stroke="#000" stroke-width="0.85"/>
<line x1="477.6" y1="61.50" x2="522.4" y2="71.10" stroke="#000" stroke-width="0.85"/>
<line x1="477.6" y1="62.21" x2="522.4" y2="68.30" stroke="#000" stroke-width="0.85"/>
<line x1="477.6" y1="62.92" x2="522.4" y2="75.30" stroke="#000" stroke-width="0.85"/>
<line x1="477.6" y1="63.64" x2="522.4" y2="78.10" stroke="#000" stroke-width="0.85"/>
<line x1="477.6" y1="64.35" x2="522.4" y2="66.90" stroke="#000" stroke-width="0.85"/>
<line x1="477.6" y1="65.06" x2="522.4" y2="80.90" stroke="#000" stroke-width="0.85"/>
<line x1="477.6" y1="65.77" x2="522.4" y2="82.30" stroke="#000" stroke-width="0.85"/>
<line x1="477.6" y1="66.48" x2="522.4" y2="73.90" stroke="#000" stroke-width="0.85"/>
<line x1="477.6" y1="67.20" x2="522.4" y2="86.50" stroke="#000" stroke-width="0.85"/>
<line x1="477.6" y1="67.91" x2="522.4" y2="72.50" stroke="#000" stroke-width="0.85"/>
<line x1="477.6" y1="68.62" x2="522.4" y2="87.90" stroke="#000" stroke-width="0.85"/>
<line x1="477.6" y1="69.33" x2="522.4" y2="96.30" stroke="#000" stroke-width="0.85"/>
<line x1="477.6" y1="70.04" x2="522.4" y2="69.70" stroke="#000" stroke-width="0.85"/>
<line x1="477.6" y1="70.76" x2="522.4" y2="79.50" stroke="#000" stroke-width="0.85"/>
<line x1="477.6" y1="71.47" x2="522.4" y2="76.70" stroke="#000" stroke-width="0.85"/>
<line x1="477.6" y1="72.18" x2="522.4" y2="83.70" stroke="#000" stroke-width="0.85"/>
<line x1="477.6" y1="72.89" x2="522.4" y2="100.50" stroke="#000" stroke-width="0.85"/>
<line x1="477.6" y1="73.60" x2="522.4" y2="101.90" stroke="#000" stroke-width="0.85"/>
<line x1="477.6" y1="74.32" x2="522.4" y2="93.50" stroke="#000" stroke-width="0.85"/>
<line x1="477.6" y1="75.03" x2="522.4" y2="99.10" stroke="#000" stroke-width="0.85"/>
<line x1="477.6" y1="75.74" x2="522.4" y2="89.30" stroke="#000" stroke-width="0.85"/>
<line x1="477.6" y1="76.45" x2="522.4" y2="92.10" stroke="#000" stroke-width="0.85"/>
<line x1="477.6" y1="77.16" x2="522.4" y2="85.10" stroke="#000" stroke-width="0.85"/>
<line x1="477.6" y1="77.88" x2="522.4" y2="90.70" stroke="#000" stroke-width="0.85"/>
<line x1="477.6" y1="78.59" x2="522.4" y2="97.70" stroke="#000" stroke-width="0.85"/>
<line x1="477.6" y1="79.30" x2="522.4" y2="94.90" stroke="#000" stroke-width="0.85"/>
<circle cx="477.6" cy="60.60" r="2.1"/>
<circle cx="522.4" cy="52.90" r="2.1"/>
<circle cx="477.6" cy="90.40" r="2.1"/>
<circle cx="522.4" cy="95.00" r="2.1"/>
<circle cx="477.6" cy="91.00" r="2.1"/>
<circle cx="522.4" cy="98.50" r="2.1"/>
<circle cx="477.6" cy="108.40" r="2.1"/>
<circle cx="522.4" cy="99.70" r="2.1"/>
<circle cx="477.6" cy="79.30" r="2.1"/>
<circle cx="522.4" cy="108.40" r="2.1"/>
<circle cx="477.6" cy="61.50" r="2.1"/>
<circle cx="522.4" cy="71.10" r="2.1"/>
<circle cx="477.6" cy="62.21" r="2.1"/>
<circle cx="522.4" cy="68.30" r="2.1"/>
<circle cx="477.6" cy="62.92" r="2.1"/>
<circle cx="522.4" cy="75.30" r="2.1"/>
<circle cx="477.6" cy="63.64" r="2.1"/>
<circle cx="522.4" cy="78.10" r="2.1"/>
<circle cx="477.6" cy="64.35" r="2.1"/>
<circle cx="522.4" cy="66.90" r="2.1"/>
<circle cx="477.6" cy="65.06" r="2.1"/>
<circle cx="522.4" cy="80.90" r="2.1"/>
<circle cx="477.6" cy="65.77" r="2.1"/>
<circle cx="522.4" cy="82.30" r="2.1"/>
<circle cx="477.6" cy="66.48" r="2.1"/>
<circle cx="522.4" cy="73.90" r="2.1"/>
<circle cx="477.6" cy="67.20" r="2.1"/>
<circle cx="522.4" cy="86.50" r="2.1"/>
<circle cx="477.6" cy="67.91" r="2.1"/>
<circle cx="522.4" cy="72.50" r="2.1"/>
<circle cx="477.6" cy="68.62" r="2.1"/>
<circle cx="522.4" cy="87.90" r="2.1"/>
<circle cx="477.6" cy="69.33" r="2.1"/>
<circle cx="522.4" cy="96.30" r="2.1"/>
<circle cx="477.6" cy="70.04" r="2.1"/>
<circle cx="522.4" cy="69.70" r="2.1"/>
<circle cx="477.6" cy="70.76" r="2.1"/>
<circle cx="522.4" cy="79.50" r="2.1"/>
<circle cx="477.6" cy="71.47" r="2.1"/>
<circle cx="522.4" cy="76.70" r="2.1"/>
<circle cx="477.6" cy="72.18" r="2.1"/>
<circle cx="522.4" cy="83.70" r="2.1"/>
<circle cx="477.6" cy="72.89" r="2.1"/>
<circle cx="522.4" cy="100.50" r="2.1"/>
<circle cx="477.6" cy="73.60" r="2.1"/>
<circle cx="522.4" cy="101.90" r="2.1"/>
<circle cx="477.6" cy="74.32" r="2.1"/>
<circle cx="522.4" cy="93.50" r="2.1"/>
<circle cx="477.6" cy="75.03" r="2.1"/>
<circle cx="522.4" cy="99.10" r="2.1"/>
<circle cx="477.6" cy="75.74" r="2.1"/>
<circle cx="522.4" cy="89.30" r="2.1"/>
<circle cx="477.6" cy="76.45" r="2.1"/>
<circle cx="522.4" cy="92.10" r="2.1"/>
<circle cx="477.6" cy="77.16" r="2.1"/>
<circle cx="522.4" cy="85.10" r="2.1"/>
<circle cx="477.6" cy="77.88" r="2.1"/>
<circle cx="522.4" cy="90.70" r="2.1"/>
<circle cx="477.6" cy="78.59" r="2.1"/>
<circle cx="522.4" cy="97.70" r="2.1"/>
<circle cx="477.6" cy="79.30" r="2.1"/>
<circle cx="522.4" cy="94.90" r="2.1"/>
<line x1="367.1" y1="318.50" x2="411.8" y2="328.10" stroke="#000" stroke-width="0.8"/>
<line x1="367.1" y1="337.30" x2="411.8" y2="357.20" stroke="#000" stroke-width="0.8"/>
<line x1="367.1" y1="326.00" x2="411.8" y2="334.60" stroke="#000" stroke-width="0.8"/>
<line x1="367.1" y1="326.82" x2="411.8" y2="338.15" stroke="#000" stroke-width="0.8"/>
<line x1="367.1" y1="327.63" x2="411.8" y2="335.19" stroke="#000" stroke-width="0.8"/>
<line x1="367.1" y1="328.45" x2="411.8" y2="336.38" stroke="#000" stroke-width="0.8"/>
<line x1="367.1" y1="329.27" x2="411.8" y2="340.52" stroke="#000" stroke-width="0.8"/>
<line x1="367.1" y1="330.08" x2="411.8" y2="336.97" stroke="#000" stroke-width="0.8"/>
<line x1="367.1" y1="330.90" x2="411.8" y2="341.70" stroke="#000" stroke-width="0.8"/>
<line x1="367.1" y1="331.72" x2="411.8" y2="337.56" stroke="#000" stroke-width="0.8"/>
<line x1="367.1" y1="332.53" x2="411.8" y2="343.48" stroke="#000" stroke-width="0.8"/>
<line x1="367.1" y1="333.35" x2="411.8" y2="338.74" stroke="#000" stroke-width="0.8"/>
<line x1="367.1" y1="334.17" x2="411.8" y2="341.11" stroke="#000" stroke-width="0.8"/>
<line x1="367.1" y1="334.98" x2="411.8" y2="335.78" stroke="#000" stroke-width="0.8"/>
<line x1="367.1" y1="335.80" x2="411.8" y2="339.33" stroke="#000" stroke-width="0.8"/>
<line x1="367.1" y1="336.62" x2="411.8" y2="347.03" stroke="#000" stroke-width="0.8"/>
<line x1="367.1" y1="337.43" x2="411.8" y2="346.43" stroke="#000" stroke-width="0.8"/>
<line x1="367.1" y1="338.25" x2="411.8" y2="339.93" stroke="#000" stroke-width="0.8"/>
<line x1="367.1" y1="339.07" x2="411.8" y2="348.21" stroke="#000" stroke-width="0.8"/>
<line x1="367.1" y1="339.88" x2="411.8" y2="342.88" stroke="#000" stroke-width="0.8"/>
<line x1="367.1" y1="340.70" x2="411.8" y2="348.80" stroke="#000" stroke-width="0.8"/>
<line x1="367.1" y1="341.52" x2="411.8" y2="342.29" stroke="#000" stroke-width="0.8"/>
<line x1="367.1" y1="342.33" x2="411.8" y2="345.25" stroke="#000" stroke-width="0.8"/>
<line x1="367.1" y1="343.15" x2="411.8" y2="345.84" stroke="#000" stroke-width="0.8"/>
<line x1="367.1" y1="343.97" x2="411.8" y2="347.62" stroke="#000" stroke-width="0.8"/>
<line x1="367.1" y1="344.78" x2="411.8" y2="344.07" stroke="#000" stroke-width="0.8"/>
<line x1="367.1" y1="345.60" x2="411.8" y2="344.66" stroke="#000" stroke-width="0.8"/>
<circle cx="367.1" cy="318.50" r="2.1"/>
<circle cx="411.8" cy="328.10" r="2.1"/>
<circle cx="367.1" cy="337.30" r="2.1"/>
<circle cx="411.8" cy="357.20" r="2.1"/>
<circle cx="367.1" cy="326.00" r="2.1"/>
<circle cx="411.8" cy="334.60" r="2.1"/>
<circle cx="367.1" cy="326.82" r="2.1"/>
<circle cx="411.8" cy="338.15" r="2.1"/>
<circle cx="367.1" cy="327.63" r="2.1"/>
<circle cx="411.8" cy="335.19" r="2.1"/>
<circle cx="367.1" cy="328.45" r="2.1"/>
<circle cx="411.8" cy="336.38" r="2.1"/>
<circle cx="367.1" cy="329.27" r="2.1"/>
<circle cx="411.8" cy="340.52" r="2.1"/>
<circle cx="367.1" cy="330.08" r="2.1"/>
<circle cx="411.8" cy="336.97" r="2.1"/>
<circle cx="367.1" cy="330.90" r="2.1"/>
<circle cx="411.8" cy="341.70" r="2.1"/>
<circle cx="367.1" cy="331.72" r="2.1"/>
<circle cx="411.8" cy="337.56" r="2.1"/>
<circle cx="367.1" cy="332.53" r="2.1"/>
<circle cx="411.8" cy="343.48" r="2.1"/>
<circle cx="367.1" cy="333.35" r="2.1"/>
<circle cx="411.8" cy="338.74" r="2.1"/>
<circle cx="367.1" cy="334.17" r="2.1"/>
<circle cx="411.8" cy="341.11" r="2.1"/>
<circle cx="367.1" cy="334.98" r="2.1"/>
<circle cx="411.8" cy="335.78" r="2.1"/>
<circle cx="367.1" cy="335.80" r="2.1"/>
<circle cx="411.8" cy="339.33" r="2.1"/>
<circle cx="367.1" cy="336.62" r="2.1"/>
<circle cx="411.8" cy="347.03" r="2.1"/>
<circle cx="367.1" cy="337.43" r="2.1"/>
<circle cx="411.8" cy="346.43" r="2.1"/>
<circle cx="367.1" cy="338.25" r="2.1"/>
<circle cx="411.8" cy="339.93" r="2.1"/>
<circle cx="367.1" cy="339.07" r="2.1"/>
<circle cx="411.8" cy="348.21" r="2.1"/>
<circle cx="367.1" cy="339.88" r="2.1"/>
<circle cx="411.8" cy="342.88" r="2.1"/>
<circle cx="367.1" cy="340.70" r="2.1"/>
<circle cx="411.8" cy="348.80" r="2.1"/>
<circle cx="367.1" cy="341.52" r="2.1"/>
<circle cx="411.8" cy="342.29" r="2.1"/>
<circle cx="367.1" cy="342.33" r="2.1"/>
<circle cx="411.8" cy="345.25" r="2.1"/>
<circle cx="367.1" cy="343.15" r="2.1"/>
<circle cx="411.8" cy="345.84" r="2.1"/>
<circle cx="367.1" cy="343.97" r="2.1"/>
<circle cx="411.8" cy="347.62" r="2.1"/>
<circle cx="367.1" cy="344.78" r="2.1"/>
<circle cx="411.8" cy="344.07" r="2.1"/>
<circle cx="367.1" cy="345.60" r="2.1"/>
<circle cx="411.8" cy="344.66" r="2.1"/>
<line x1="477.5" y1="339.30" x2="522.5" y2="322.80" stroke="#000" stroke-width="0.8"/>
<line x1="477.5" y1="333.00" x2="522.5" y2="330.20" stroke="#000" stroke-width="0.8"/>
<line x1="477.5" y1="326.00" x2="522.5" y2="352.00" stroke="#000" stroke-width="0.8"/>
<line x1="477.5" y1="326.50" x2="522.5" y2="339.17" stroke="#000" stroke-width="0.8"/>
<line x1="477.5" y1="327.20" x2="522.5" y2="342.22" stroke="#000" stroke-width="0.8"/>
<line x1="477.5" y1="327.89" x2="522.5" y2="345.28" stroke="#000" stroke-width="0.8"/>
<line x1="477.5" y1="328.59" x2="522.5" y2="343.44" stroke="#000" stroke-width="0.8"/>
<line x1="477.5" y1="329.29" x2="522.5" y2="351.39" stroke="#000" stroke-width="0.8"/>
<line x1="477.5" y1="329.98" x2="522.5" y2="345.89" stroke="#000" stroke-width="0.8"/>
<line x1="477.5" y1="330.68" x2="522.5" y2="348.33" stroke="#000" stroke-width="0.8"/>
<line x1="477.5" y1="331.37" x2="522.5" y2="339.78" stroke="#000" stroke-width="0.8"/>
<line x1="477.5" y1="332.07" x2="522.5" y2="349.56" stroke="#000" stroke-width="0.8"/>
<line x1="477.5" y1="332.77" x2="522.5" y2="335.50" stroke="#000" stroke-width="0.8"/>
<line x1="477.5" y1="333.46" x2="522.5" y2="350.78" stroke="#000" stroke-width="0.8"/>
<line x1="477.5" y1="334.16" x2="522.5" y2="346.50" stroke="#000" stroke-width="0.8"/>
<line x1="477.5" y1="334.86" x2="522.5" y2="342.83" stroke="#000" stroke-width="0.8"/>
<line x1="477.5" y1="335.55" x2="522.5" y2="336.11" stroke="#000" stroke-width="0.8"/>
<line x1="477.5" y1="336.25" x2="522.5" y2="337.94" stroke="#000" stroke-width="0.8"/>
<line x1="477.5" y1="336.94" x2="522.5" y2="344.06" stroke="#000" stroke-width="0.8"/>
<line x1="477.5" y1="337.64" x2="522.5" y2="341.00" stroke="#000" stroke-width="0.8"/>
<line x1="477.5" y1="338.34" x2="522.5" y2="336.72" stroke="#000" stroke-width="0.8"/>
<line x1="477.5" y1="339.03" x2="522.5" y2="344.67" stroke="#000" stroke-width="0.8"/>
<line x1="477.5" y1="339.73" x2="522.5" y2="337.33" stroke="#000" stroke-width="0.8"/>
<line x1="477.5" y1="340.43" x2="522.5" y2="338.56" stroke="#000" stroke-width="0.8"/>
<line x1="477.5" y1="341.12" x2="522.5" y2="341.61" stroke="#000" stroke-width="0.8"/>
<line x1="477.5" y1="341.82" x2="522.5" y2="340.39" stroke="#000" stroke-width="0.8"/>
<line x1="477.5" y1="342.51" x2="522.5" y2="350.17" stroke="#000" stroke-width="0.8"/>
<line x1="477.5" y1="343.21" x2="522.5" y2="347.72" stroke="#000" stroke-width="0.8"/>
<line x1="477.5" y1="343.91" x2="522.5" y2="348.94" stroke="#000" stroke-width="0.8"/>
<line x1="477.5" y1="344.60" x2="522.5" y2="347.11" stroke="#000" stroke-width="0.8"/>
<line x1="477.5" y1="345.30" x2="522.5" y2="352.00" stroke="#000" stroke-width="0.8"/>
<circle cx="477.5" cy="339.30" r="2.1"/>
<circle cx="522.5" cy="322.80" r="2.1"/>
<circle cx="477.5" cy="333.00" r="2.1"/>
<circle cx="522.5" cy="330.20" r="2.1"/>
<circle cx="477.5" cy="326.00" r="2.1"/>
<circle cx="522.5" cy="352.00" r="2.1"/>
<circle cx="477.5" cy="326.50" r="2.1"/>
<circle cx="522.5" cy="339.17" r="2.1"/>
<circle cx="477.5" cy="327.20" r="2.1"/>
<circle cx="522.5" cy="342.22" r="2.1"/>
<circle cx="477.5" cy="327.89" r="2.1"/>
<circle cx="522.5" cy="345.28" r="2.1"/>
<circle cx="477.5" cy="328.59" r="2.1"/>
<circle cx="522.5" cy="343.44" r="2.1"/>
<circle cx="477.5" cy="329.29" r="2.1"/>
<circle cx="522.5" cy="351.39" r="2.1"/>
<circle cx="477.5" cy="329.98" r="2.1"/>
<circle cx="522.5" cy="345.89" r="2.1"/>
<circle cx="477.5" cy="330.68" r="2.1"/>
<circle cx="522.5" cy="348.33" r="2.1"/>
<circle cx="477.5" cy="331.37" r="2.1"/>
<circle cx="522.5" cy="339.78" r="2.1"/>
<circle cx="477.5" cy="332.07" r="2.1"/>
<circle cx="522.5" cy="349.56" r="2.1"/>
<circle cx="477.5" cy="332.77" r="2.1"/>
<circle cx="522.5" cy="335.50" r="2.1"/>
<circle cx="477.5" cy="333.46" r="2.1"/>
<circle cx="522.5" cy="350.78" r="2.1"/>
<circle cx="477.5" cy="334.16" r="2.1"/>
<circle cx="522.5" cy="346.50" r="2.1"/>
<circle cx="477.5" cy="334.86" r="2.1"/>
<circle cx="522.5" cy="342.83" r="2.1"/>
<circle cx="477.5" cy="335.55" r="2.1"/>
<circle cx="522.5" cy="336.11" r="2.1"/>
<circle cx="477.5" cy="336.25" r="2.1"/>
<circle cx="522.5" cy="337.94" r="2.1"/>
<circle cx="477.5" cy="336.94" r="2.1"/>
<circle cx="522.5" cy="344.06" r="2.1"/>
<circle cx="477.5" cy="337.64" r="2.1"/>
<circle cx="522.5" cy="341.00" r="2.1"/>
<circle cx="477.5" cy="338.34" r="2.1"/>
<circle cx="522.5" cy="336.72" r="2.1"/>
<circle cx="477.5" cy="339.03" r="2.1"/>
<circle cx="522.5" cy="344.67" r="2.1"/>
<circle cx="477.5" cy="339.73" r="2.1"/>
<circle cx="522.5" cy="337.33" r="2.1"/>
<circle cx="477.5" cy="340.43" r="2.1"/>
<circle cx="522.5" cy="338.56" r="2.1"/>
<circle cx="477.5" cy="341.12" r="2.1"/>
<circle cx="522.5" cy="341.61" r="2.1"/>
<circle cx="477.5" cy="341.82" r="2.1"/>
<circle cx="522.5" cy="340.39" r="2.1"/>
<circle cx="477.5" cy="342.51" r="2.1"/>
<circle cx="522.5" cy="350.17" r="2.1"/>
<circle cx="477.5" cy="343.21" r="2.1"/>
<circle cx="522.5" cy="347.72" r="2.1"/>
<circle cx="477.5" cy="343.91" r="2.1"/>
<circle cx="522.5" cy="348.94" r="2.1"/>
<circle cx="477.5" cy="344.60" r="2.1"/>
<circle cx="522.5" cy="347.11" r="2.1"/>
<circle cx="477.5" cy="345.30" r="2.1"/>
<circle cx="522.5" cy="352.00" r="2.1"/>
</svg>
</body></html>
